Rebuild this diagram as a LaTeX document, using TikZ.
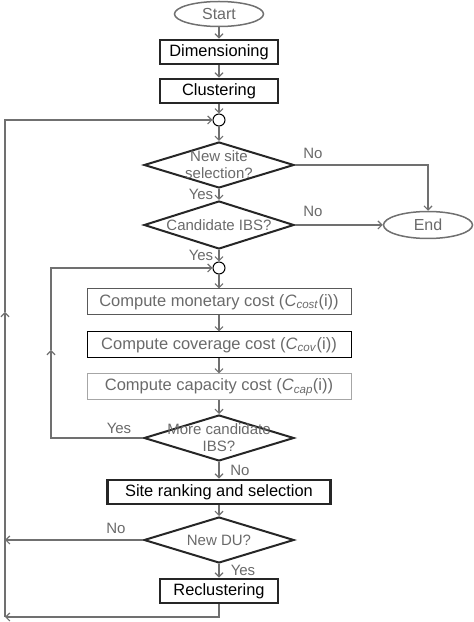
\documentclass[tikz,border=0pt]{standalone}
\usepackage{fontspec}
\setmainfont{Liberation Sans}
\usepackage{tikz}
\usetikzlibrary{shapes.geometric, arrows.meta}
\definecolor{lgray}{HTML}{707070}
\definecolor{tgray}{HTML}{6A6A6A}

\begin{document}
\begin{tikzpicture}[x=1pt, y=1pt, >={Straight Barb[length=4pt,width=8pt]},
  line/.style={draw=lgray, line width=1.2pt},
  blk/.style={draw=black!85, line width=2.8pt, minimum width=118pt, minimum height=24pt, inner sep=0pt, font=\fontsize{16.4}{18}\selectfont},
  cbox/.style={draw, line width=1pt, minimum width=264pt, minimum height=26pt, inner sep=0pt, text=tgray, font=\fontsize{16.5}{18}\selectfont},
  term/.style={ellipse, draw=lgray, line width=1.5pt, text=tgray, minimum width=89pt, minimum height=25pt, inner sep=0pt, font=\fontsize{16}{18}\selectfont},
  dec/.style={diamond, draw=black!85, line width=2pt, minimum width=150pt, minimum height=46pt, inner sep=0pt},
  dtext/.style={text=tgray, align=center, font=\fontsize{15}{17}\selectfont},
  jn/.style={circle, draw, line width=1pt, minimum size=12pt, inner sep=0pt, fill=white},
  lab/.style={text=tgray, font=\fontsize{15}{17}\selectfont}]
\useasboundingbox (0,0) rectangle (474,622);

\node[term] (start) at (219,608) {Start};
\node[blk] (dim) at (219,570) {Dimensioning};
\node[blk] (clu) at (219,531) {Clustering};
\node[jn] (c1) at (219,502) {};
\node[dec, label={[dtext]center:New site\\selection?}] (q1) at (219,457) {};
\node[dec, minimum height=48pt, label={[dtext]center:Candidate IBS?}] (q2) at (219,397) {};
\node[term, minimum height=27pt] (endn) at (428,397) {End};
\node[jn] (c2) at (219,354) {};
\node[cbox, draw=black!65] (cost) at (219,320) {Compute monetary cost (\textit{C}\textsubscript{\textit{cost}}(i))};
\node[cbox, draw=black] (cov) at (219,277) {Compute coverage cost (\textit{C}\textsubscript{\textit{cov}}(i))};
\node[cbox, draw=black!35] (cap) at (219,235) {Compute capacity cost (\textit{C}\textsubscript{\textit{cap}}(i))};
\node[dec, label={[dtext]center:More candidate\\IBS?}] (q3) at (219,184) {};
\node[blk, minimum width=223pt] (rank) at (219,130) {Site ranking and selection};
\node[dec, label={[dtext]center:New DU?}] (q4) at (219,82) {};
\node[blk] (recl) at (219,31) {Reclustering};

\node[lab] (no1) at (313,469) {No};
\node[lab] (yes1) at (201,428) {Yes};
\node[lab] (no2) at (313,411) {No};
\node[lab] (yes2) at (201,367) {Yes};
\node[lab] (yes3) at (119,194) {Yes};
\node[lab] (no3) at (240,152) {No};
\node[lab] (no4) at (116,94) {No};
\node[lab] (yes4) at (243,52) {Yes};

\coordinate (il) at (51,184);
\coordinate (ilm) at (51,272);
\coordinate (ilt) at (51,354);
\coordinate (ob) at (5,5);
\coordinate (om) at (5,310);
\coordinate (ot) at (5,502);
\coordinate (ol) at (5,82);

\draw[line,->] (start) -- (dim);
\draw[line,->] (dim) -- (clu);
\draw[line,->] (clu) -- (c1);
\draw[line,->] (c1) -- (q1);
\draw[line,->] (q1) -- (q2);
\draw[line,->] (q1.east) -| (endn.north);
\draw[line,->] (q2.east) -- (endn.west);
\draw[line,->] (q2) -- (c2);
\draw[line,->] (c2) -- (cost);
\draw[line,->] (cost) -- (cov);
\draw[line,->] (cov) -- (cap);
\draw[line,->] (cap) -- (q3);
\draw[line,->] (q3) -- (rank);
\draw[line,->] (rank) -- (q4);
\draw[line,->] (q4) -- (recl);
\draw[line,->] (q3.west) -- (il) -- (ilm);
\draw[line,->] (ilm) -- (ilt) -- (c2);
\draw[line,->] (q4.west) -- (ol);
\draw[line,->] (recl.south) |- (ob);
\draw[line,->] (ob) -- (om);
\draw[line,->] (om) -- (ot) -- (c1);
\end{tikzpicture}
\end{document}
